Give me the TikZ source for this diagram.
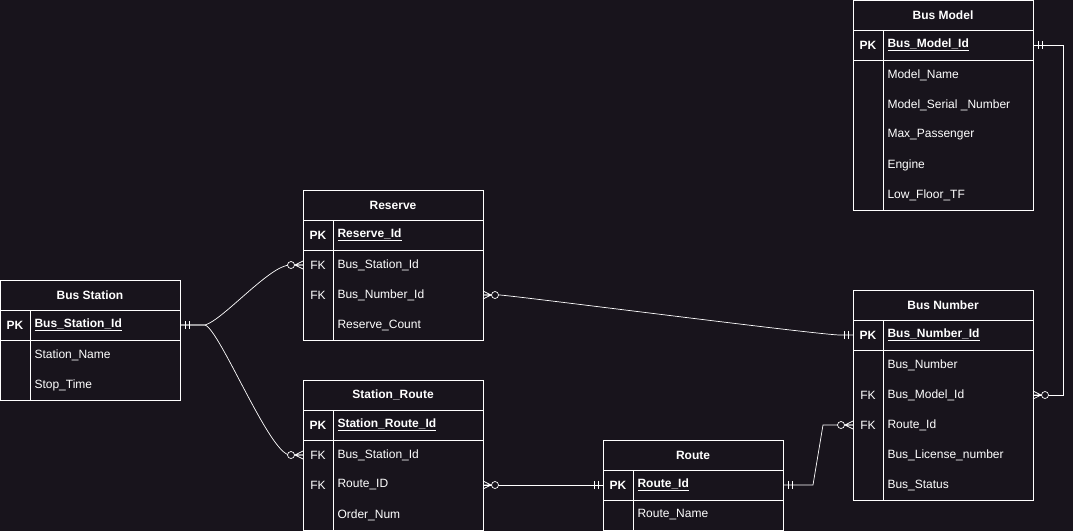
\documentclass[tikz,border=0pt]{standalone}
\usepackage{fontspec}
\setmainfont{Liberation Sans}
\definecolor{bgdark}{HTML}{18141C}
\tikzset{
  ln/.style = {draw=white, line width=0.8pt},
  hdr/.style = {text=white, font=\fontsize{12}{14}\selectfont\bfseries},
  fld/.style = {text=white, anchor=west, font=\fontsize{12}{14}\selectfont},
  pk/.style = {text=white, anchor=west, font=\fontsize{12}{14}\selectfont\bfseries},
  key/.style = {text=white, font=\fontsize{12}{14}\selectfont},
  pics/zmany/.style = {code={
    \draw[white, line width=0.7pt] (0,-4) -- (8,0) -- (0,4) (0,0) -- (8,0);
    \draw[white, fill=bgdark, line width=0.7pt] (12,0) circle (3.5);}},
  pics/onebar/.style = {code={
    \draw[white, line width=0.7pt] (5,-4) -- (5,4) (9,-4) -- (9,4);}}
}
% table: name, x, y, title, number of plain rows, height
\newcommand{\ertable}[6]{%
  \draw[ln] (#2,#3) rectangle ++(180,#6);
  \draw[ln] (#2,#3+30) -- ++(180,0) (#2,#3+60) -- ++(180,0);
  \draw[ln] (#2+30,#3+30) -- (#2+30,#3+#6);
  \node[hdr] (#1) at (#2+90,#3+15) {#4};
}
\begin{document}
\begin{tikzpicture}[x=1pt, y=-1pt]
\fill[bgdark] (0,0) rectangle (1073,531);
\useasboundingbox (0,0) rectangle (1073,531);

% Bus Model
\ertable{bm}{853}{0}{Bus Model}{5}{210}
\node[key] at (868,45) {\bfseries PK};
\node[pk] (bmId) at (884,45) {\underline{Bus\_Model\_Id}};
\foreach \f [count=\i] in {Model\_Name, Model\_Serial \_Number, Max\_Passenger, Engine, Low\_Floor\_TF}
  \node[fld] at (884,45+30*\i) {\f};

% Reserve
\ertable{rs}{303}{190}{Reserve}{3}{150}
\node[key] at (318,235) {\bfseries PK};
\node[pk] at (334,235) {\underline{Reserve\_Id}};
\node[key] at (318,265) {FK};
\node[key] at (318,295) {FK};
\node[fld] (rsStation) at (334,265) {Bus\_Station\_Id};
\node[fld] (rsNumber) at (334,295) {Bus\_Number\_Id};
\node[fld] at (334,325) {Reserve\_Count};

% Bus Station
\ertable{bs}{0}{280}{Bus Station}{2}{120}
\node[key] at (15,325) {\bfseries PK};
\node[pk] at (31,325) {\underline{Bus\_Station\_Id}};
\node[fld] at (31,355) {Station\_Name};
\node[fld] at (31,385) {Stop\_Time};

% Station_Route
\ertable{sr}{303}{380}{Station\_Route}{3}{150}
\node[key] at (318,425) {\bfseries PK};
\node[pk] at (334,425) {\underline{Station\_Route\_Id}};
\node[key] at (318,455) {FK};
\node[key] at (318,485) {FK};
\node[fld] at (334,455) {Bus\_Station\_Id};
\node[fld] at (334,485) {Route\_ID};
\node[fld] at (334,515) {Order\_Num};

% Route
\ertable{rt}{603}{440}{Route}{1}{90}
\node[key] at (618,485) {\bfseries PK};
\node[pk] at (634,485) {\underline{Route\_Id}};
\node[fld] at (634,515) {Route\_Name};

% Bus Number
\ertable{bn}{853}{290}{Bus Number}{5}{210}
\node[key] at (868,335) {\bfseries PK};
\node[pk] at (884,335) {\underline{Bus\_Number\_Id}};
\node[key] at (868,395) {FK};
\node[key] at (868,425) {FK};
\foreach \f [count=\i] in {Bus\_Number, Bus\_Model\_Id, Route\_Id, Bus\_License\_number, Bus\_Status}
  \node[fld] at (884,335+30*\i) {\f};

% connection points
\coordinate (bsPK) at (180,325);
\coordinate (rsFK1) at (303,265);
\coordinate (rsFK2) at (483,295);
\coordinate (srFK1) at (303,455);
\coordinate (srFK2) at (483,485);
\coordinate (rtPKl) at (603,485);
\coordinate (rtPKr) at (783,485);
\coordinate (bnPK) at (853,335);
\coordinate (bnModel) at (1033,395);
\coordinate (bnRoute) at (853,425);
\coordinate (bmPK) at (1033,45);

% relations
\draw[white, line width=0.7pt] (bsPK) -- ++(25,0) .. controls +(18,-5) and (270,265) .. (290,265) -- (rsFK1);
\draw[white, line width=0.7pt] (bsPK) -- ++(25,0) .. controls +(15,5) and (270,455) .. (290,455) -- (srFK1);
\draw[white, line width=0.7pt] (rsFK2) -- ++(17,0) .. controls +(25,2) and (820,335) .. (840,335) -- (bnPK);
\draw[white, line width=0.7pt] (srFK2) -- (rtPKl);
\draw[white, line width=0.7pt] (rtPKr) -- ++(30,0) -- (823,425) -- (bnRoute);
\draw[white, line width=0.7pt] (bmPK) -- ++(30,0) |- (bnModel);

% end marks
\pic at (bsPK) {onebar};
\pic[rotate=180] at (rsFK1) {zmany};
\pic[rotate=180] at (srFK1) {zmany};
\pic at (rsFK2) {zmany};
\pic[rotate=180] at (bnPK) {onebar};
\pic at (srFK2) {zmany};
\pic[rotate=180] at (rtPKl) {onebar};
\pic at (rtPKr) {onebar};
\pic[rotate=180] at (bnRoute) {zmany};
\pic at (bmPK) {onebar};
\pic at (bnModel) {zmany};
\end{tikzpicture}
\end{document}
